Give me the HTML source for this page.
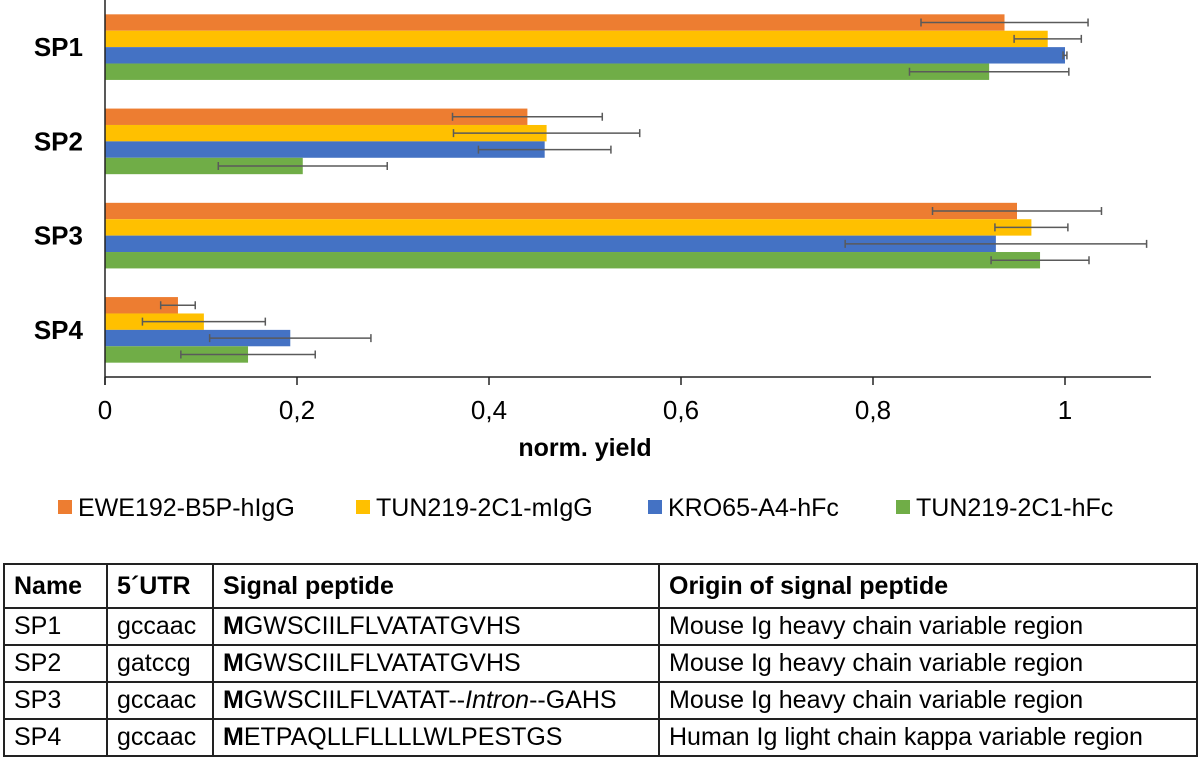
<!DOCTYPE html>
<html><head><meta charset="utf-8"><style>
body{margin:0;width:1200px;height:755px;background:#fff;font-family:"Liberation Sans",Arial,sans-serif;position:relative;overflow:hidden}
svg{position:absolute;left:0;top:0}
table{position:absolute;left:3px;top:563px;width:1195px;border-collapse:collapse;font-size:25px;color:#000}
td,th{border:2px solid #222;padding:0 0 0 9px;text-align:left;height:35px;line-height:35px;white-space:nowrap}
th{height:42px;font-weight:bold}
</style></head><body>
<svg id="chart" width="1200" height="560"></svg>
<table>
<colgroup><col style="width:103px"><col style="width:106px"><col style="width:446px"><col></colgroup>
<tr><th>Name</th><th>5´UTR</th><th>Signal peptide</th><th>Origin of signal peptide</th></tr>
<tr><td>SP1</td><td>gccaac</td><td><b>M</b>GWSCIILFLVATATGVHS</td><td>Mouse Ig heavy chain variable region</td></tr>
<tr><td>SP2</td><td>gatccg</td><td><b>M</b>GWSCIILFLVATATGVHS</td><td>Mouse Ig heavy chain variable region</td></tr>
<tr><td>SP3</td><td>gccaac</td><td><b>M</b>GWSCIILFLVATAT--<i>Intron</i>--GAHS</td><td>Mouse Ig heavy chain variable region</td></tr>
<tr><td>SP4</td><td>gccaac</td><td><b>M</b>ETPAQLLFLLLLWLPESTGS</td><td>Human Ig light chain kappa variable region</td></tr>
</table>
<script>
const categories=["SP1","SP2","SP3","SP4"];
const seriesNames=["EWE192-B5P-hIgG","TUN219-2C1-mIgG","KRO65-A4-hFc","TUN219-2C1-hFc"];
const valEWE=[0.937,0.440,0.950,0.076];
const valTUNm=[0.982,0.460,0.965,0.103];
const valKRO=[1.000,0.458,0.928,0.193];
const valTUNh=[0.921,0.206,0.974,0.149];
const errEWE=[0.087,0.078,0.088,0.018];
const errTUNm=[0.035,0.097,0.038,0.064];
const errKRO=[0.002,0.069,0.157,0.084];
const errTUNh=[0.083,0.088,0.051,0.070];
const ticks=[0,0.2,0.4,0.6,0.8,1];
const tickLabels=["0","0,2","0,4","0,6","0,8","1"];
const colors=["#ED7D31","#FFC000","#4472C4","#70AD47"];
const values=[valEWE,valTUNm,valKRO,valTUNh];
const errs=[errEWE,errTUNm,errKRO,errTUNh];
const NS="http://www.w3.org/2000/svg";
const svg=document.getElementById('chart');
const x0=105,xScale=960,axisEnd=1151,yTop=0,yBot=377;
const band=(yBot-yTop)/categories.length, barH=16.4;
const X=v=>x0+v*xScale;
function mk(t,a){const e=document.createElementNS(NS,t);for(const k in a)e.setAttribute(k,a[k]);svg.appendChild(e);return e;}
categories.forEach((c,i)=>{
  const gTop=yTop+i*band+(band-4*barH)/2;
  values.forEach((s,j)=>{
    const y=gTop+j*barH;
    const r=mk('rect',{x:x0,y:y,width:X(s[i])-x0,height:barH,fill:colors[j]});
    
    
    const cy=y+barH/2,lo=X(s[i]-errs[j][i]),hi=X(s[i]+errs[j][i]);
    const e=mk('path',{d:`M${lo},${cy}H${hi}M${lo},${cy-4}V${cy+4}M${hi},${cy-4}V${cy+4}`,stroke:'#5a5a5a','stroke-width':1.5,fill:'none'});
    
    
  });
  const t=mk('text',{x:83,y:yTop+i*band+band/2+9,'text-anchor':'end','font-size':26,'font-weight':'bold'});
  t.textContent=c;
  
  
});
const ya=mk('line',{x1:x0,y1:0,x2:x0,y2:yBot+8,stroke:'#222','stroke-width':1.5});


const xa=mk('line',{x1:x0,y1:yBot,x2:axisEnd,y2:yBot,stroke:'#222','stroke-width':1.5});


ticks.forEach((v,i)=>{
  const tk=mk('line',{x1:X(v),y1:yBot,x2:X(v),y2:yBot+8,stroke:'#222','stroke-width':1.5});
  
  
  const t=mk('text',{x:X(v),y:419,'text-anchor':'middle','font-size':26});
  t.textContent=tickLabels[i];
  
  
});
const xt=mk('text',{x:585,y:456,'text-anchor':'middle','font-size':25,'font-weight':'bold'});
xt.textContent='norm. yield';


const legX=[58,356,648,896];
seriesNames.forEach((n,j)=>{
  const r=mk('rect',{x:legX[j],y:500,width:14,height:14,fill:colors[j]});
  
  
  const t=mk('text',{x:legX[j]+20,y:516,'font-size':25});
  t.textContent=n;
  
  
});
</script>
</body></html>
